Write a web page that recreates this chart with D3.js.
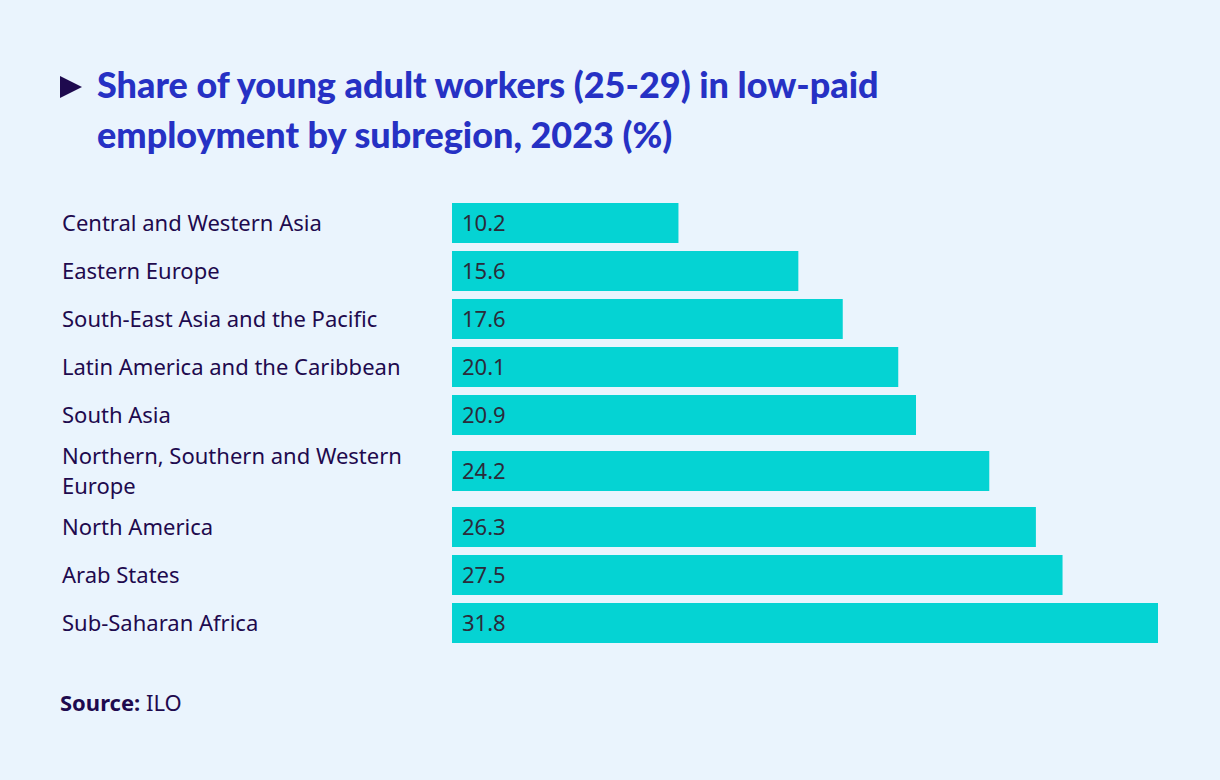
<!DOCTYPE html>
<html><head><meta charset="utf-8">
<script src="https://cdn.jsdelivr.net/npm/d3@7"></script>
<style>body{margin:0;background:#EAF4FD;}</style>
</head><body>
<svg id="c" width="1220" height="780"></svg>
<script>
const categories = ["Central and Western Asia","Eastern Europe","South-East Asia and the Pacific","Latin America and the Caribbean","South Asia","Northern, Southern and Western|Europe","North America","Arab States","Sub-Saharan Africa"];
const values = [10.2,15.6,17.6,20.1,20.9,24.2,26.3,27.5,31.8];

const svg = d3.select("#c");
svg.append("rect").attr("width",1220).attr("height",780).attr("fill","#EAF4FD");

svg.append("path").attr("d","M60,76 L82,87 L60,98 Z").attr("fill","#1E0A4E");
const title = svg.append("text").attr("fill","#2631C4").attr("font-family","Lato, 'Noto Sans', sans-serif").attr("font-weight","900").attr("font-size",36);
title.append("tspan").attr("x",97).attr("y",98).text("Share of young adult workers (25-29) in low-paid");
title.append("tspan").attr("x",97).attr("y",148).text("employment by subregion, 2023 (%)");

const x = d3.scaleLinear().domain([0,31.8]).range([452,1158]);
// row heights: two-line labels take more room
const heights = categories.map(c => c.includes("|") ? 64 : 48);
const tops = [];
let acc = 199;
heights.forEach(h => { tops.push(acc); acc += h; });
const barH = 40;

const g = svg.append("g");
categories.forEach((c,i) => {
  const cy = tops[i] + heights[i]/2;
  g.append("rect").attr("x",x(0)).attr("y",cy-barH/2).attr("width",x(values[i])-x(0)).attr("height",barH).attr("fill","#05D3D3");
  g.append("text").attr("x",x(0)+10).attr("y",cy+8).attr("font-family","'Noto Sans', sans-serif").attr("font-size",22).attr("fill","#2b2b3a").text(values[i].toFixed(1));
  const lines = c.split("|");
  const t = g.append("text").attr("font-family","'Noto Sans', sans-serif").attr("font-size",22).attr("fill","#1E0A4E");
  lines.forEach((l,j) => {
    t.append("tspan").attr("x",62).attr("y",cy+8 + (j - (lines.length-1)/2)*30).text(l);
  });
});

const s = svg.append("text").attr("x",60).attr("y",711).attr("font-family","'Noto Sans', sans-serif").attr("font-size",22).attr("fill","#1E0A4E");
s.append("tspan").attr("font-weight","bold").text("Source: ");
s.append("tspan").text("ILO");
</script>
</body></html>
